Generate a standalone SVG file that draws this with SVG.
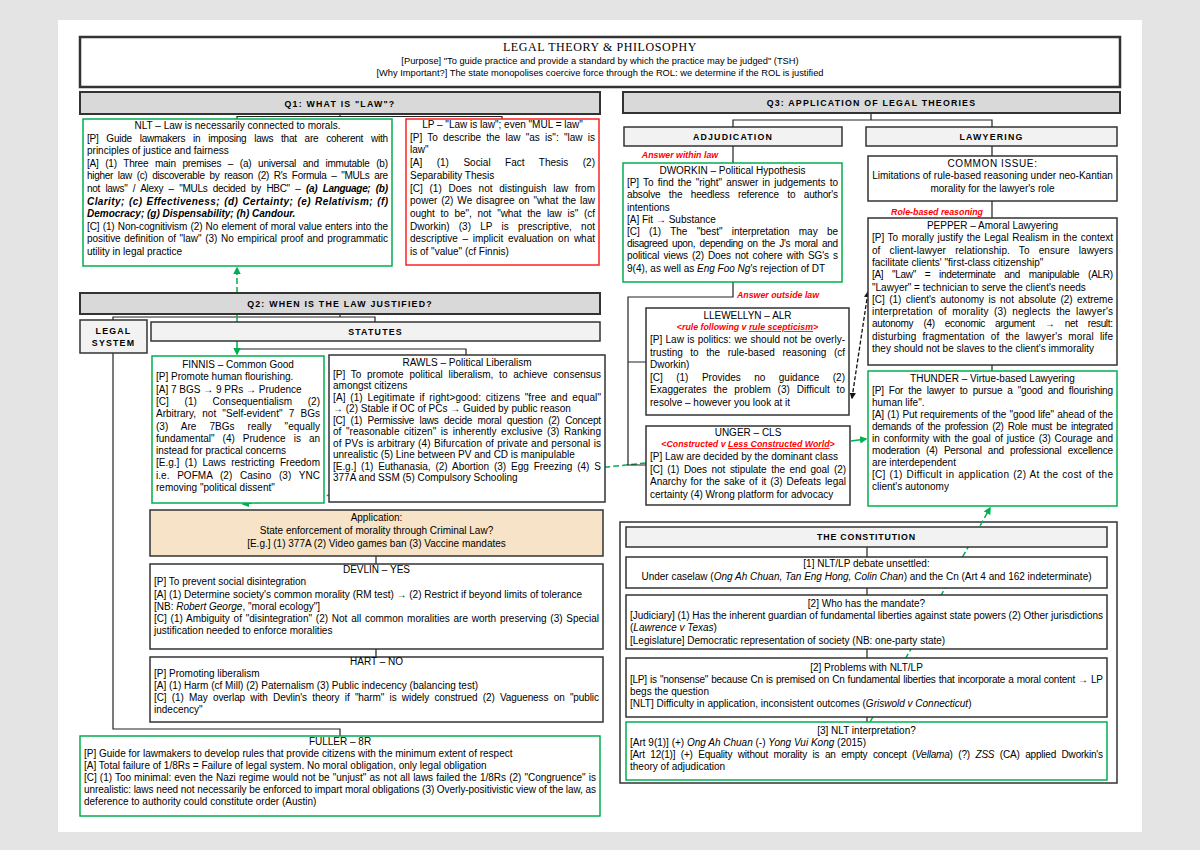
<svg xmlns="http://www.w3.org/2000/svg" width="1200" height="850" viewBox="0 0 1200 850">
<style>
text{font-family:'Liberation Sans',Arial,sans-serif;font-size:10px;fill:#000}
.c{text-anchor:middle}
.hd{font-weight:bold;letter-spacing:1.2px;font-size:8.8px}
.b{font-weight:bold}
.i{font-style:italic}
.r{fill:#ff0000;font-weight:bold;font-style:italic;font-size:8.8px}
.u{text-decoration:underline}
.sm{font-size:9.3px}
.box{fill:#fff;stroke:#333;stroke-width:1.5}
.gbox{fill:#fff;stroke:#00b050;stroke-width:1.5}
.rbox{fill:#fff;stroke:#ff2020;stroke-width:1.5}
.qh{fill:#d9d9d9;stroke:#333;stroke-width:2}
.lh{fill:#f2f2f2;stroke:#333;stroke-width:1.5}
.ln{fill:none;stroke:#222;stroke-width:1.2}
.gl{fill:none;stroke:#00b050;stroke-width:1.5}
.gd{fill:none;stroke:#00b050;stroke-width:1.5;stroke-dasharray:6 3}
.kd{fill:none;stroke:#111;stroke-width:1.3;stroke-dasharray:4 2}
</style>
<defs>
<marker id="ag" viewBox="0 0 10 10" refX="8" refY="5" markerWidth="5" markerHeight="5" orient="auto-start-reverse"><path d="M0,0 L10,5 L0,10 z" fill="#00b050"/></marker>
<marker id="ak" viewBox="0 0 10 10" refX="8" refY="5" markerWidth="5" markerHeight="5" orient="auto-start-reverse"><path d="M0,0 L10,5 L0,10 z" fill="#111"/></marker>
</defs>
<rect x="0" y="0" width="1200" height="850" fill="#e4e4e4"/>
<rect x="58" y="20" width="1084" height="812" fill="#fff"/>

<g id="header">
<rect x="80" y="37" width="1040" height="50" fill="#fff" stroke="#333" stroke-width="2.5"/>
<text x="600" y="51" class="c" style="font-family:'Liberation Serif','Times New Roman',serif;font-size:12px;letter-spacing:0.6px">LEGAL THEORY &amp; PHILOSOPHY</text>
<text x="600" y="64" class="c sm">[Purpose] "To guide practice and provide a standard by which the practice may be judged" (TSH)</text>
<text x="600" y="76" class="c sm">[Why Important?] The state monopolises coercive force through the ROL: we determine if the ROL is justified</text>
</g>

<g id="constitution-frame">
<rect x="620" y="522" width="497" height="261" fill="#fff" stroke="#333" stroke-width="1.5"/>
</g>

<g id="connectors">
<path class="ln" d="M340,114 V116.5 M237,119 V116.5 H502 V119"/>
<path class="gd" d="M237,293 V268" marker-end="url(#ag)"/>
<path class="ln" d="M340,314 V317 M113,320 V317 H375 V322"/>
<path class="ln" d="M237,349 H466 V355"/>
<path class="ln" d="M113,353 V729 H340 V736"/>
<path class="ln" d="M376,556 V564 M376,649 V657"/>
<path class="gd" d="M646,463 L243,504" marker-end="url(#ag)"/>
<path class="ln" d="M871,113 V120 M733,127 V120 H992 V127"/>
<path class="ln" d="M733,146 V163"/>
<path class="ln" d="M733,282 V297 H628 V465 H646 M628,362 H646"/>
<path class="ln" d="M992,146 V156 M992,201 V218 M992,365 V371"/>
<path class="kd" d="M852,398 L868,292" marker-start="url(#ak)" marker-end="url(#ak)"/>
<path class="gl" d="M851,441 L866,439" marker-end="url(#ag)"/>
<path class="ln" d="M867,547 V722"/>
<path class="gd" d="M870,722 L990,508" marker-end="url(#ag)"/>
<path class="gl" d="M237,314 V322 M237,341 V354" marker-end="url(#ag)"/>
</g>

<g id="q1">
<rect class="qh" x="80" y="92" width="520" height="22"/>
<text x="340" y="106.5" class="c hd">Q1: WHAT IS "LAW"?</text>
</g>

<g id="nlt">
<rect class="gbox" x="83" y="119" width="309" height="147"/>
<text x="237.5" y="129" class="c">NLT – Law is necessarily connected to morals.</text>
<text x="87" y="141.6" textLength="301" lengthAdjust="spacing" style="word-spacing:5.4px">[P] Guide lawmakers in imposing laws that are coherent with</text>
<text x="87" y="154.2">principles of justice and fairness</text>
<text x="87" y="166.8" textLength="301" lengthAdjust="spacing" style="word-spacing:4.1px">[A] (1) Three main premises – (a) universal and immutable (b)</text>
<text x="87" y="179.4" textLength="301" lengthAdjust="spacing" style="word-spacing:2.3px">higher law (c) discoverable by reason (2) R's Formula – "MULs are</text>
<text x="87" y="192" textLength="301" lengthAdjust="spacing" style="word-spacing:3px">not laws" / Alexy – "MULs decided by HBC" – <tspan class="i b">(a) Language; (b)</tspan></text>
<text x="87" y="204.6" textLength="301" lengthAdjust="spacing" class="i b" style="word-spacing:1px">Clarity; (c) Effectiveness; (d) Certainty; (e) Relativism; (f)</text>
<text x="87" y="217.2" class="i b">Democracy; (g) Dispensability; (h) Candour.</text>
<text x="87" y="229.8" textLength="301" lengthAdjust="spacing" style="word-spacing:0.6px">[C] (1) Non-cognitivism (2) No element of moral value enters into the</text>
<text x="87" y="242.4" textLength="301" lengthAdjust="spacing" style="word-spacing:0.9px">positive definition of "law" (3) No empirical proof and programmatic</text>
<text x="87" y="255">utility in legal practice</text>
</g>

<g id="lp">
<rect class="rbox" x="406" y="119" width="193" height="146"/>
<text x="502.5" y="128" class="c">LP – "Law is law"; even "MUL = law"</text>
<text x="410" y="140.7" textLength="185" lengthAdjust="spacing" style="word-spacing:2.4px">[P] To describe the law "as is": "law is</text>
<text x="410" y="153.4">law"</text>
<text x="410" y="166.1" textLength="185" lengthAdjust="spacing" style="word-spacing:11.7px">[A] (1) Social Fact Thesis (2)</text>
<text x="410" y="178.8">Separability Thesis</text>
<text x="410" y="191.5" textLength="185" lengthAdjust="spacing" style="word-spacing:4px">[C] (1) Does not distinguish law from</text>
<text x="410" y="204.2" textLength="185" lengthAdjust="spacing" style="word-spacing:1.1px">power (2) We disagree on "what the law</text>
<text x="410" y="216.9" textLength="185" lengthAdjust="spacing" style="word-spacing:3.1px">ought to be", not "what the law is" (cf</text>
<text x="410" y="229.6" textLength="185" lengthAdjust="spacing" style="word-spacing:6.4px">Dworkin) (3) LP is prescriptive, not</text>
<text x="410" y="242.3" textLength="185" lengthAdjust="spacing" style="word-spacing:1.9px">descriptive – implicit evaluation on what</text>
<text x="410" y="255">is of "value" (cf Finnis)</text>
</g>

<g id="q2">
<rect class="qh" x="80" y="293" width="520" height="21"/>
<text x="340" y="306.8" class="c hd">Q2: WHEN IS THE LAW JUSTIFIED?</text>
</g>

<g id="legal-system">
<rect class="lh" x="80" y="320" width="67" height="33"/>
<text x="113.5" y="334" class="c hd">LEGAL</text>
<text x="113.5" y="346" class="c hd">SYSTEM</text>
</g>

<g id="statutes">
<rect class="lh" x="151" y="322" width="449" height="19"/>
<text x="375.5" y="334.8" class="c hd">STATUTES</text>
</g>

<g id="finnis">
<rect class="gbox" x="152" y="356" width="172" height="147"/>
<text x="238" y="368" class="c">FINNIS – Common Good</text>
<text x="156" y="380.3">[P] Promote human flourishing.</text>
<text x="156" y="392.6">[A] 7 BGS → 9 PRs → Prudence</text>
<text x="156" y="404.9" textLength="164" lengthAdjust="spacing" style="word-spacing:13px">[C] (1) Consequentialism (2)</text>
<text x="156" y="417.2" textLength="164" lengthAdjust="spacing" style="word-spacing:3.4px">Arbitrary, not "Self-evident" 7 BGs</text>
<text x="156" y="429.5" textLength="164" lengthAdjust="spacing" style="word-spacing:10.2px">(3) Are 7BGs really "equally</text>
<text x="156" y="441.8" textLength="164" lengthAdjust="spacing" style="word-spacing:5.2px">fundamental" (4) Prudence is an</text>
<text x="156" y="454.1">instead for practical concerns</text>
<text x="156" y="466.4" textLength="164" lengthAdjust="spacing" style="word-spacing:2.6px">[E.g.] (1) Laws restricting Freedom</text>
<text x="156" y="478.7" textLength="164" lengthAdjust="spacing" style="word-spacing:4.9px">i.e. POFMA (2) Casino (3) YNC</text>
<text x="156" y="491">removing "political dissent"</text>
</g>

<g id="rawls">
<rect class="box" x="329" y="355" width="276" height="147"/>
<text x="467" y="366" class="c">RAWLS – Political Liberalism</text>
<text x="333" y="377.5" textLength="268" lengthAdjust="spacing" style="word-spacing:3px">[P] To promote political liberalism, to achieve consensus</text>
<text x="333" y="389">amongst citizens</text>
<text x="333" y="400.5" textLength="268" lengthAdjust="spacing" style="word-spacing:1.7px">[A] (1) Legitimate if right&gt;good: citizens "free and equal"</text>
<text x="333" y="412">→ (2) Stable if OC of PCs → Guided by public reason</text>
<text x="333" y="423.5" textLength="268" lengthAdjust="spacing" style="word-spacing:2.9px">[C] (1) Permissive laws decide moral question (2) Concept</text>
<text x="333" y="435" textLength="268" lengthAdjust="spacing" style="word-spacing:1.7px">of "reasonable citizen" is inherently exclusive (3) Ranking</text>
<text x="333" y="446.5" textLength="268" lengthAdjust="spacing" style="word-spacing:0.4px">of PVs is arbitrary (4) Bifurcation of private and personal is</text>
<text x="333" y="458">unrealistic (5) Line between PV and CD is manipulable</text>
<text x="333" y="469.5" textLength="268" lengthAdjust="spacing" style="word-spacing:2.2px">[E.g.] (1) Euthanasia, (2) Abortion (3) Egg Freezing (4) S</text>
<text x="333" y="481">377A and SSM (5) Compulsory Schooling</text>
</g>

<g id="application">
<rect x="150" y="510" width="453" height="46" fill="#f7e4c8" stroke="#333" stroke-width="1.5"/>
<text x="376.5" y="521" class="c">Application:</text>
<text x="376.5" y="534" class="c">State enforcement of morality through Criminal Law?</text>
<text x="376.5" y="547" class="c">[E.g.] (1) 377A (2) Video games ban (3) Vaccine mandates</text>
</g>

<g id="devlin">
<rect class="box" x="150" y="564" width="453" height="85"/>
<text x="376.5" y="573" class="c">DEVLIN – YES</text>
<text x="154" y="585">[P] To prevent social disintegration</text>
<text x="154" y="597.5">[A] (1) Determine society's common morality (RM test) → (2) Restrict if beyond limits of tolerance</text>
<text x="154" y="609.5">[NB: <tspan class="i">Robert George</tspan>, "moral ecology"]</text>
<text x="154" y="622" textLength="445" lengthAdjust="spacing" style="word-spacing:1.1px">[C] (1) Ambiguity of "disintegration" (2) Not all common moralities are worth preserving (3) Special</text>
<text x="154" y="634">justification needed to enforce moralities</text>
</g>

<g id="hart">
<rect class="box" x="150" y="657" width="453" height="65"/>
<text x="376.5" y="665" class="c">HART – NO</text>
<text x="154" y="677">[P] Promoting liberalism</text>
<text x="154" y="689">[A] (1) Harm (cf Mill) (2) Paternalism (3) Public indecency (balancing test)</text>
<text x="154" y="701" textLength="445" lengthAdjust="spacing" style="word-spacing:2.6px">[C] (1) May overlap with Devlin's theory if "harm" is widely construed (2) Vagueness on "public</text>
<text x="154" y="713">indecency"</text>
</g>

<g id="fuller">
<rect class="gbox" x="80" y="736" width="520" height="80"/>
<text x="340" y="745" class="c">FULLER – 8R</text>
<text x="84" y="757">[P] Guide for lawmakers to develop rules that provide citizens with the minimum extent of respect</text>
<text x="84" y="769">[A] Total failure of 1/8Rs = Failure of legal system. No moral obligation, only legal obligation</text>
<text x="84" y="781" textLength="512" lengthAdjust="spacing" style="word-spacing:0.4px">[C] (1) Too minimal: even the Nazi regime would not be "unjust" as not all laws failed the 1/8Rs (2) "Congruence" is</text>
<text x="84" y="793" textLength="512" lengthAdjust="spacing">unrealistic: laws need not necessarily be enforced to impart moral obligations (3) Overly-positivistic view of the law, as</text>
<text x="84" y="805">deference to authority could constitute order (Austin)</text>
</g>

<g id="q3">
<rect class="qh" x="623" y="92" width="497" height="21"/>
<text x="871.5" y="106" class="c hd">Q3: APPLICATION OF LEGAL THEORIES</text>
</g>

<g id="adjudication">
<rect class="lh" x="624" y="127" width="218" height="19"/>
<text x="733" y="139.8" class="c hd">ADJUDICATION</text>
<text x="680" y="158" class="c r">Answer within law</text>
</g>

<g id="lawyering">
<rect class="lh" x="866" y="127" width="251" height="19"/>
<text x="991.5" y="139.8" class="c hd">LAWYERING</text>
</g>

<g id="dworkin">
<rect class="gbox" x="623" y="163" width="219" height="119"/>
<text x="732.5" y="174" class="c">DWORKIN – Political Hypothesis</text>
<text x="627" y="186.2" textLength="211" lengthAdjust="spacing" style="word-spacing:1.4px">[P] To find the "right" answer in judgements to</text>
<text x="627" y="198.4" textLength="211" lengthAdjust="spacing" style="word-spacing:5.8px">absolve the heedless reference to author's</text>
<text x="627" y="210.6">intentions</text>
<text x="627" y="222.8">[A] Fit → Substance</text>
<text x="627" y="235" textLength="211" lengthAdjust="spacing" style="word-spacing:6.6px">[C] (1) The "best" interpretation may be</text>
<text x="627" y="247.2" textLength="211" lengthAdjust="spacing" style="word-spacing:2px">disagreed upon, depending on the J's moral and</text>
<text x="627" y="259.4" textLength="211" lengthAdjust="spacing" style="word-spacing:1.4px">political views (2) Does not cohere with SG's s</text>
<text x="627" y="271.6">9(4), as well as <tspan class="i">Eng Foo Ng</tspan>'s rejection of DT</text>
<text x="778" y="298" class="c r">Answer outside law</text>
</g>

<g id="llewellyn">
<rect class="box" x="646" y="308" width="203" height="107"/>
<text x="747.5" y="319" class="c">LLEWELLYN – ALR</text>
<text x="747.5" y="330" class="c r">&lt;rule following v <tspan class="u">rule scepticism</tspan>&gt;</text>
<text x="650" y="343" textLength="195" lengthAdjust="spacing" style="word-spacing:0.5px">[P] Law is politics: we should not be overly-</text>
<text x="650" y="355.5" textLength="195" lengthAdjust="spacing" style="word-spacing:4.8px">trusting to the rule-based reasoning (cf</text>
<text x="650" y="368">Dworkin)</text>
<text x="650" y="380.5" textLength="195" lengthAdjust="spacing" style="word-spacing:10.7px">[C] (1) Provides no guidance (2)</text>
<text x="650" y="393" textLength="195" lengthAdjust="spacing" style="word-spacing:3.9px">Exaggerates the problem (3) Difficult to</text>
<text x="650" y="405.5">resolve – however you look at it</text>
</g>

<g id="unger">
<rect class="box" x="646" y="426" width="204" height="79"/>
<text x="748" y="436" class="c">UNGER – CLS</text>
<text x="748" y="447" class="c r">&lt;Constructed v <tspan class="u">Less Constructed World</tspan>&gt;</text>
<text x="650" y="460">[P] Law are decided by the dominant class</text>
<text x="650" y="472.5" textLength="196" lengthAdjust="spacing" style="word-spacing:1.9px">[C] (1) Does not stipulate the end goal (2)</text>
<text x="650" y="485" textLength="196" lengthAdjust="spacing" style="word-spacing:1.2px">Anarchy for the sake of it (3) Defeats legal</text>
<text x="650" y="497.5">certainty (4) Wrong platform for advocacy</text>
</g>

<g id="common-issue">
<rect class="box" x="868" y="156" width="249" height="45"/>
<text x="992.5" y="167" class="c" style="letter-spacing:0.6px">COMMON ISSUE:</text>
<text x="992.5" y="179" class="c">Limitations of rule-based reasoning under neo-Kantian</text>
<text x="992.5" y="192" class="c">morality for the lawyer's role</text>
<text x="937" y="215" class="c r">Role-based reasoning</text>
</g>

<g id="pepper">
<rect class="box" x="868" y="218" width="249" height="147"/>
<text x="992.5" y="229" class="c">PEPPER – Amoral Lawyering</text>
<text x="872" y="241.3" textLength="241" lengthAdjust="spacing" style="word-spacing:0.8px">[P] To morally justify the Legal Realism in the context</text>
<text x="872" y="253.6" textLength="241" lengthAdjust="spacing" style="word-spacing:6.3px">of client-lawyer relationship. To ensure lawyers</text>
<text x="872" y="265.9">facilitate clients' "first-class citizenship"</text>
<text x="872" y="278.2" textLength="241" lengthAdjust="spacing" style="word-spacing:6.3px">[A] "Law" = indeterminate and manipulable (ALR)</text>
<text x="872" y="290.5">"Lawyer" = technician to serve the client's needs</text>
<text x="872" y="302.8" textLength="241" lengthAdjust="spacing" style="word-spacing:1.7px">[C] (1) client's autonomy is not absolute (2) extreme</text>
<text x="872" y="315.1" textLength="241" lengthAdjust="spacing" style="word-spacing:2.5px">interpretation of morality (3) neglects the lawyer's</text>
<text x="872" y="327.4" textLength="241" lengthAdjust="spacing" style="word-spacing:7.7px">autonomy (4) economic argument → net result:</text>
<text x="872" y="339.7" textLength="241" lengthAdjust="spacing" style="word-spacing:3.2px">disturbing fragmentation of the lawyer's moral life</text>
<text x="872" y="352">they should not be slaves to the client's immorality</text>
</g>

<g id="thunder">
<rect class="gbox" x="868" y="371" width="249" height="135"/>
<text x="992.5" y="382" class="c">THUNDER – Virtue-based Lawyering</text>
<text x="872" y="394" textLength="241" lengthAdjust="spacing" style="word-spacing:2.3px">[P] For the lawyer to pursue a "good and flourishing</text>
<text x="872" y="406">human life".</text>
<text x="872" y="418" textLength="241" lengthAdjust="spacing" style="word-spacing:0.4px">[A] (1) Put requirements of the "good life" ahead of the</text>
<text x="872" y="430" textLength="241" lengthAdjust="spacing" style="word-spacing:1.7px">demands of the profession (2) Role must be integrated</text>
<text x="872" y="442" textLength="241" lengthAdjust="spacing" style="word-spacing:1.2px">in conformity with the goal of justice (3) Courage and</text>
<text x="872" y="454" textLength="241" lengthAdjust="spacing" style="word-spacing:3.6px">moderation (4) Personal and professional excellence</text>
<text x="872" y="466">are interdependent</text>
<text x="872" y="478" textLength="241" lengthAdjust="spacing" style="word-spacing:0.8px">[C] (1) Difficult in application (2) At the cost of the</text>
<text x="872" y="490">client's autonomy</text>
</g>

<g id="const-header">
<rect class="lh" x="626" y="527" width="481" height="20"/>
<text x="866.5" y="540" class="c hd" style="letter-spacing:0.8px">THE CONSTITUTION</text>
</g>

<g id="const-1">
<rect class="box" x="626" y="557" width="481" height="31"/>
<text x="866.5" y="567" class="c">[1] NLT/LP debate unsettled:</text>
<text x="866.5" y="580" class="c">Under caselaw (<tspan class="i">Ong Ah Chuan, Tan Eng Hong, Colin Chan</tspan>) and the Cn (Art 4 and 162 indeterminate)</text>
</g>

<g id="const-2">
<rect class="box" x="626" y="595" width="481" height="54"/>
<text x="866.5" y="607" class="c">[2] Who has the mandate?</text>
<text x="630" y="619" textLength="473" lengthAdjust="spacing">[Judiciary] (1) Has the inherent guardian of fundamental liberties against state powers (2) Other jurisdictions</text>
<text x="630" y="631">(<tspan class="i">Lawrence v Texas</tspan>)</text>
<text x="630" y="644">[Legislature] Democratic representation of society (NB: one-party state)</text>
</g>

<g id="const-2b">
<rect class="box" x="626" y="658" width="481" height="59"/>
<text x="866.5" y="671" class="c">[2] Problems with NLT/LP</text>
<text x="630" y="683" textLength="473" lengthAdjust="spacing" style="word-spacing:0.6px">[LP] is "nonsense" because Cn is premised on Cn fundamental liberties that incorporate a moral content → LP</text>
<text x="630" y="695">begs the question</text>
<text x="630" y="707">[NLT] Difficulty in application, inconsistent outcomes (<tspan class="i">Griswold v Connecticut</tspan>)</text>
</g>

<g id="const-3">
<rect class="gbox" x="626" y="722" width="481" height="58"/>
<text x="866.5" y="734" class="c">[3] NLT interpretation?</text>
<text x="630" y="746">[Art 9(1)] (+) <tspan class="i">Ong Ah Chuan</tspan> (-) <tspan class="i">Yong Vui Kong</tspan> (2015)</text>
<text x="630" y="758" textLength="473" lengthAdjust="spacing" style="word-spacing:3px">[Art 12(1)] (+) Equality without morality is an empty concept (<tspan class="i">Vellama</tspan>) (?) <tspan class="i">ZSS</tspan> (CA) applied Dworkin's</text>
<text x="630" y="770">theory of adjudication</text>
</g>
</svg>
